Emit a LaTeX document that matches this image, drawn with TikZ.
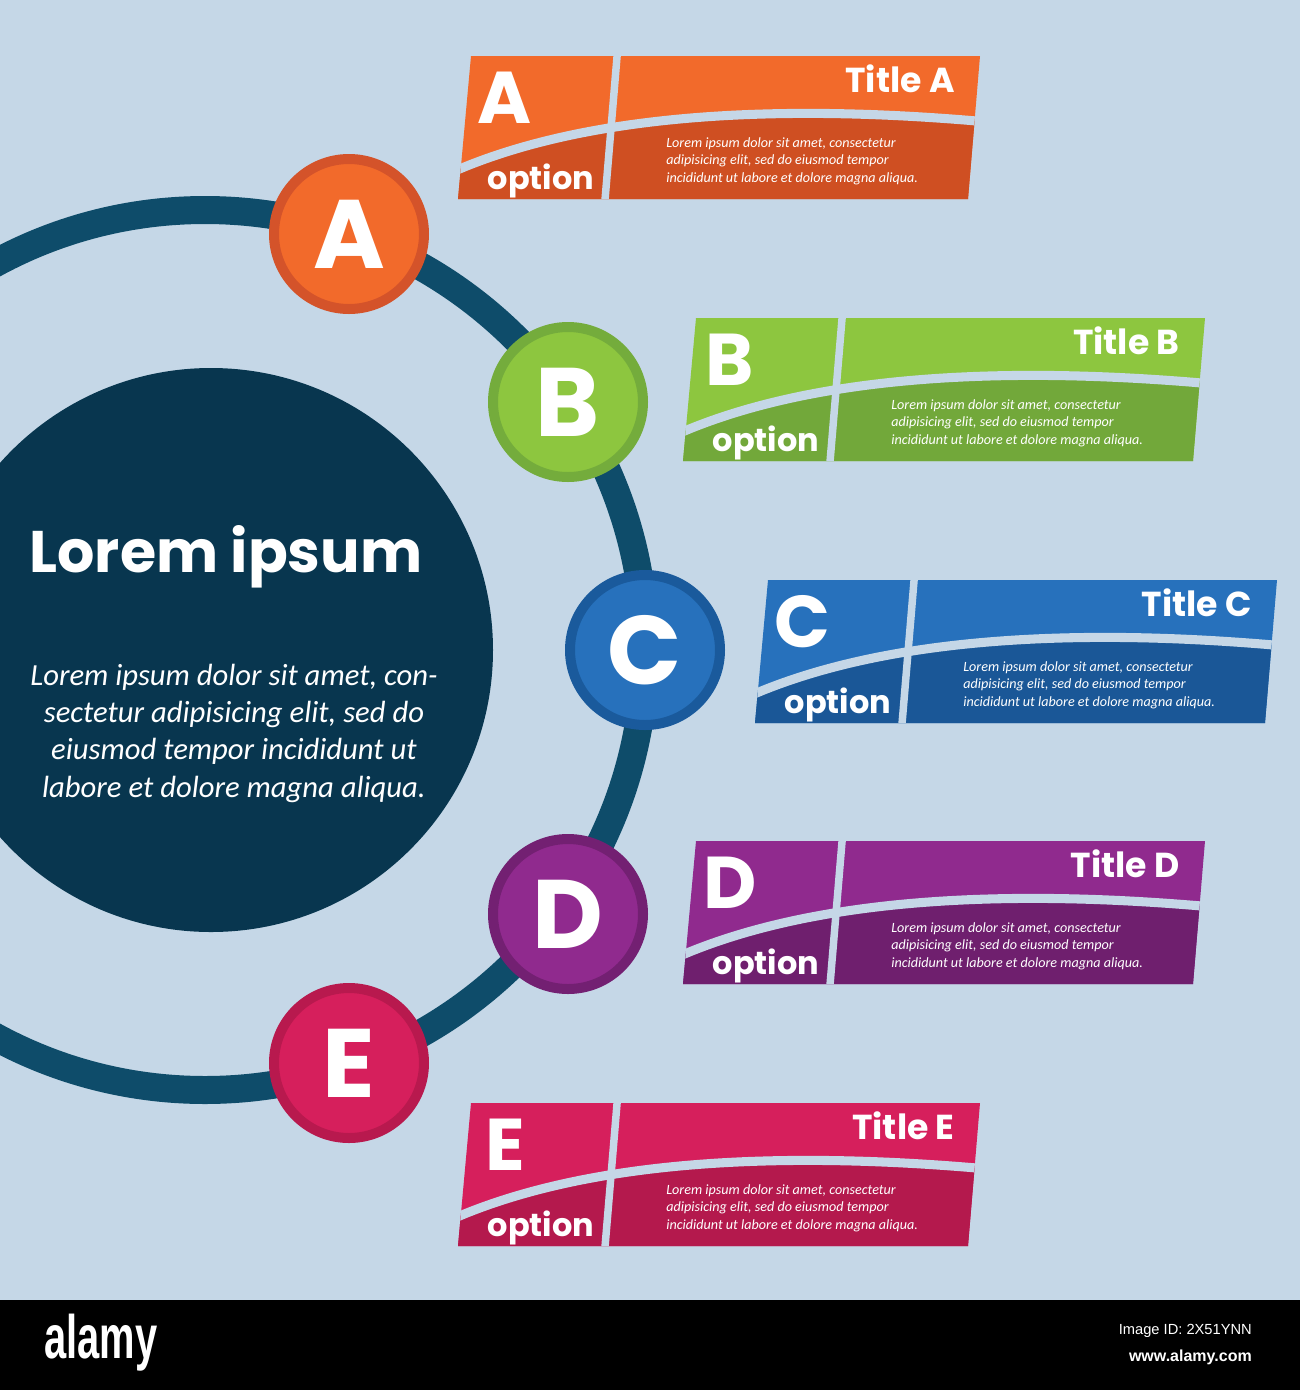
\documentclass[tikz,border=0pt]{standalone}
\usepackage{fontspec}
\newfontfamily\boldsans{Poppins}
\newfontfamily\bodyit{Carlito}
\newfontfamily\logofont{Liberation Sans}
\definecolor{bgblue}{HTML}{C5D7E7}
\definecolor{ringblue}{HTML}{0E4C6A}
\definecolor{coreblue}{HTML}{08364F}
\definecolor{orA}{HTML}{F26A2B}\definecolor{orAd}{HTML}{CF4F22}\definecolor{orAb}{HTML}{D4532A}
\definecolor{grB}{HTML}{8DC63F}\definecolor{grBd}{HTML}{72A83A}\definecolor{grBb}{HTML}{74AC3C}
\definecolor{blC}{HTML}{2771BC}\definecolor{blCd}{HTML}{1A5797}\definecolor{blCb}{HTML}{1A5A9C}
\definecolor{puD}{HTML}{902A8E}\definecolor{puDd}{HTML}{6F1F6E}\definecolor{puDb}{HTML}{732072}
\definecolor{reE}{HTML}{D61F5C}\definecolor{reEd}{HTML}{B4194D}\definecolor{reEb}{HTML}{B8194E}
% one option banner: #1 origin, #2 letter, #3 top colour, #4 lower colour
\newcommand\optbox[4]{%
\begin{scope}[shift={#1}]
\begin{scope}
\clip (13,0)--(522,0)--(510,143)--(0,143)--cycle;
\fill[#3] (-5,-5) rectangle (530,150);
\fill[#4] (-10,118) .. controls (130,55) and (330,48) .. (530,66) -- (530,150) -- (-10,150) -- cycle;
\draw[bgblue,line width=6.8pt] (-10,118) .. controls (130,55) and (330,48) .. (530,66);
\draw[bgblue,line width=5.6pt] (159.5,-5) -- (146.5,150);
\end{scope}
\node[boxletter] (let#2) at (47,67) {#2};
\node[optlabel] (opt#2) at (83,133) {option};
\node[boxtitle] (tit#2) at (497,36) {Title #2};
\node[boxtext] (txt#2) at (208,105) {Lorem ipsum dolor sit amet, consectetur\\adipisicing elit, sed do eiusmod tempor\\incididunt ut labore et dolore magna aliqua.};
\end{scope}}
\begin{document}
\begin{tikzpicture}[x=0.75pt,y=-0.75pt,
  dot/.style={circle,inner sep=0pt,minimum size=112.5pt,line width=7.5pt,text=white,
    font=\boldsans\bfseries\fontsize{73}{73}\selectfont},
  boxletter/.style={anchor=base,text=white,inner sep=0pt,font=\boldsans\bfseries\fontsize{55}{55}\selectfont},
  optlabel/.style={anchor=base,text=white,inner sep=0pt,font=\boldsans\bfseries\fontsize{24}{24}\selectfont},
  boxtitle/.style={anchor=base east,text=white,inner sep=0pt,font=\boldsans\bfseries\fontsize{26}{26}\selectfont},
  boxtext/.style={anchor=west,align=left,text=white,inner sep=0pt,font=\bodyit\itshape\fontsize{10.6}{13}\selectfont}]
\useasboundingbox (0,0) rectangle (1300,1390);
\clip (0,0) rectangle (1300,1390);
\fill[bgblue] (0,0) rectangle (1300,1300);
%
\draw[ringblue,line width=21pt] (205,650) circle (440);
\fill[coreblue] (211,650) circle (282);
\node[anchor=base,text=white,inner sep=0pt,font=\boldsans\bfseries\fontsize{44}{44}\selectfont] (head) at (226,572) {Lorem ipsum};
\node[align=center,text=white,inner sep=0pt,font=\bodyit\itshape\fontsize{23}{28}\selectfont] (intro) at (234,733)
  {Lorem ipsum dolor sit amet, con-\\sectetur adipisicing elit, sed do\\eiusmod tempor incididunt ut\\labore et dolore magna aliqua.};
%
\node[dot,fill=orA,draw=orAb] (cA) at (349,234) {A};
\node[dot,fill=grB,draw=grBb] (cB) at (568,402) {B};
\node[dot,fill=blC,draw=blCb] (cC) at (645,650) {C};
\node[dot,fill=puD,draw=puDb] (cD) at (568,914) {D};
\node[dot,fill=reE,draw=reEb] (cE) at (349,1063) {E};
%
\optbox{(458,56)}{A}{orA}{orAd}
\optbox{(683,318)}{B}{grB}{grBd}
\optbox{(755,580)}{C}{blC}{blCd}
\optbox{(683,841)}{D}{puD}{puDd}
\optbox{(458,1103)}{E}{reE}{reEd}
%
\fill[black] (0,1300) rectangle (1300,1390);
\node[text=white,inner sep=0pt,xscale=0.65,font=\logofont\bfseries\fontsize{46}{46}\selectfont] (logo) at (101,1343) {alamy};
\node[anchor=east,text=white,inner sep=0pt,font=\logofont\fontsize{11}{11}\selectfont] (imgid) at (1252,1331) {Image ID: 2X51YNN};
\node[anchor=east,text=white,inner sep=0pt,font=\logofont\bfseries\fontsize{12}{12}\selectfont] (site) at (1252,1357) {www.alamy.com};
\end{tikzpicture}
\end{document}
